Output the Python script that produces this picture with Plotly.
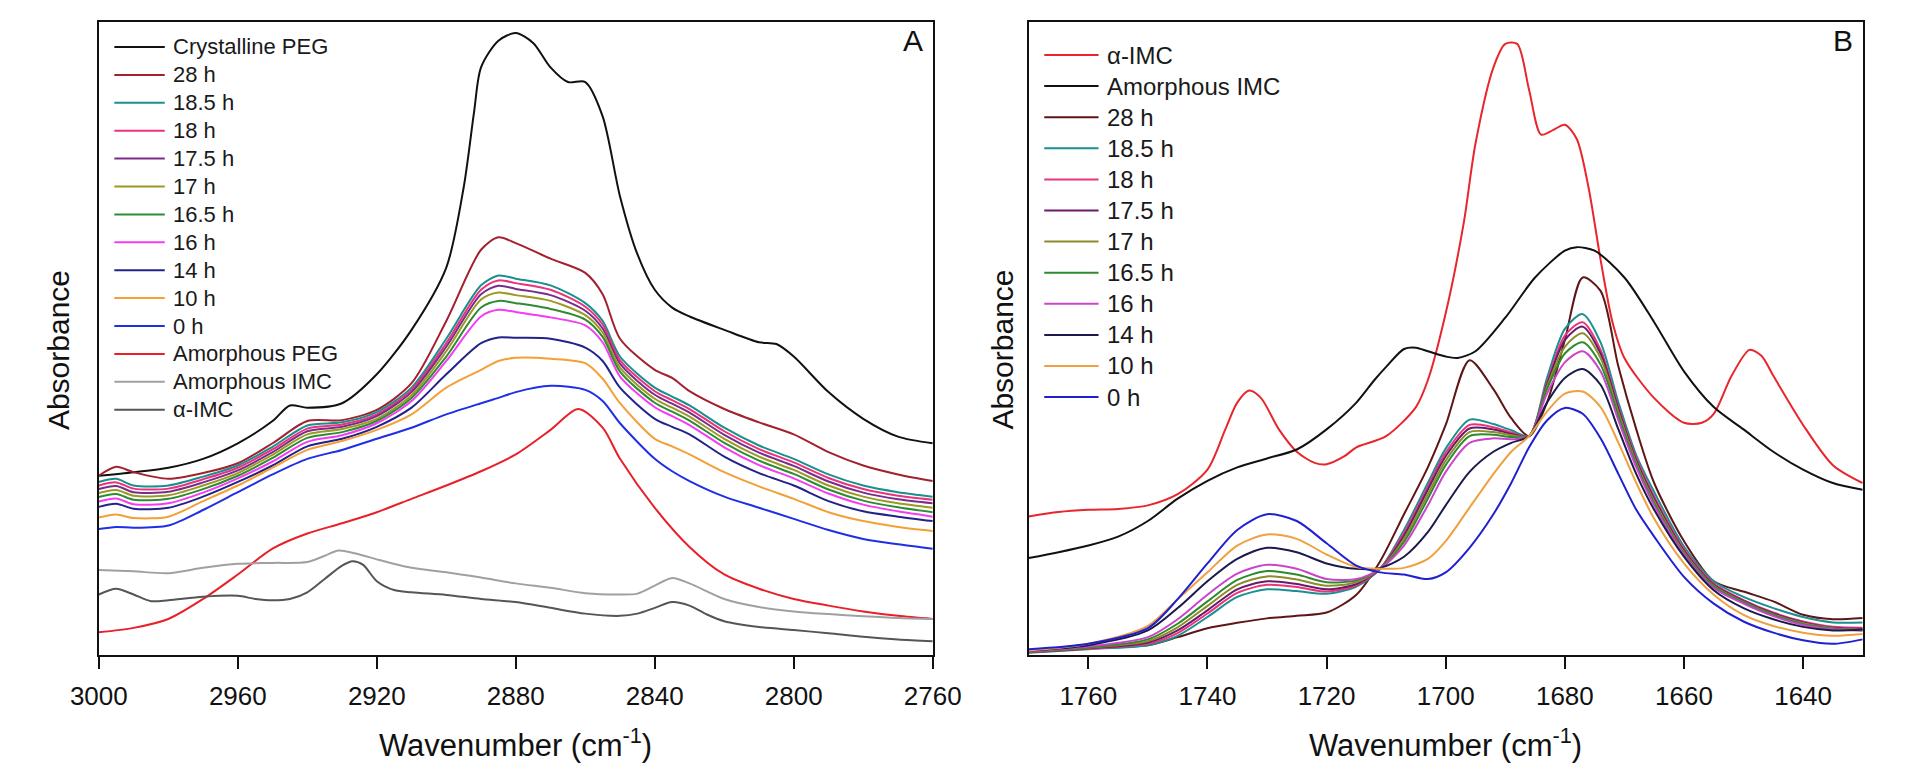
import plotly.graph_objects as go

# ---------------- Panel A (C-H stretching region), absorbance in mAU (arbitrary offset) -------------
WN_A_T = [3000, 2995, 2990, 2980, 2970, 2960, 2950, 2940, 2930, 2920, 2910, 2900, 2890, 2885,
          2880, 2870, 2860, 2855, 2850, 2840, 2835, 2830, 2820, 2810, 2800, 2790, 2780, 2770, 2760]
A_28H = [369, 389, 377, 362, 375, 397, 442, 492, 494, 517, 577, 717, 877, 905, 892, 857, 825, 777, 677, 607,
         589, 559, 519, 489, 462, 422, 392, 372, 357]
A_18_5H = [355, 362, 347, 347, 367, 392, 434, 482, 489, 512, 567, 677, 797, 819, 812, 797, 757, 717, 637, 567,
           547, 527, 477, 437, 407, 372, 347, 332, 322]
A_18H = [347, 354, 340, 340, 361, 387, 428, 475, 484, 507, 562, 667, 787, 808, 802, 787, 749, 709, 629, 559,
         539, 519, 469, 429, 399, 364, 339, 324, 315]
A_17_5H = [339, 346, 332, 333, 354, 381, 422, 469, 479, 503, 557, 659, 777, 796, 789, 775, 740, 700, 621, 551,
           531, 511, 461, 421, 391, 356, 331, 316, 307]
A_17H = [330, 337, 324, 325, 347, 375, 416, 462, 474, 497, 550, 649, 765, 781, 775, 762, 730, 691, 612, 542,
         522, 502, 452, 412, 382, 347, 322, 307, 297]
A_16_5H = [321, 328, 315, 317, 339, 369, 409, 454, 467, 492, 544, 637, 747, 762, 757, 744, 720, 681, 603, 533,
           513, 493, 443, 403, 373, 338, 313, 298, 287]
A_16H = [311, 318, 305, 307, 331, 363, 401, 445, 460, 487, 537, 627, 727, 742, 737, 725, 707, 669, 592, 523,
         503, 483, 433, 393, 363, 329, 304, 289, 277]
A_14H = [299, 306, 295, 297, 322, 355, 392, 435, 452, 479, 522, 597, 667, 680, 679, 677, 657, 627, 567, 497,
         479, 462, 412, 375, 347, 312, 289, 277, 267]
A_10H = [275, 282, 274, 277, 312, 347, 387, 427, 447, 472, 507, 567, 607, 627, 634, 632, 622, 587, 532, 452,
         435, 417, 377, 345, 317, 287, 267, 254, 245]
A_0H = [249, 254, 252, 257, 292, 332, 372, 407, 427, 452, 477, 507, 532, 544, 557, 571, 562, 537, 487, 407,
        379, 357, 322, 297, 272, 247, 227, 215, 205]

WN_A_CRYST = [3000, 2990, 2980, 2970, 2960, 2950, 2945, 2940, 2930, 2920, 2910, 2900, 2895, 2892, 2890, 2885,
              2880, 2875, 2870, 2865, 2860, 2855, 2850, 2845, 2840, 2835, 2830, 2820, 2810, 2805, 2800, 2790,
              2780, 2770, 2760]
A_CRYST_PEG = [369, 377, 387, 407, 442, 492, 527, 522, 532, 597, 697, 837, 1017, 1187, 1287, 1347, 1364, 1342,
               1287, 1254, 1254, 1177, 997, 867, 787, 747, 727, 697, 669, 665, 637, 557, 497, 457, 442]

WN_A_AMPEG = [3000, 2990, 2980, 2970, 2960, 2950, 2940, 2930, 2920, 2910, 2900, 2890, 2880, 2870, 2862, 2855,
              2850, 2840, 2830, 2820, 2810, 2800, 2790, 2780, 2770, 2760]
A_AM_PEG = [17, 27, 47, 92, 147, 205, 239, 262, 287, 317, 347, 379, 417, 472, 519, 477, 407, 297, 209, 147,
            115, 92, 77, 64, 54, 47]

WN_A_AMIMC = [3000, 2990, 2980, 2970, 2960, 2950, 2940, 2935, 2931, 2925, 2920, 2910, 2900, 2890, 2880, 2870,
              2860, 2850, 2845, 2840, 2835, 2830, 2820, 2810, 2800, 2790, 2780, 2770, 2760]
A_AM_IMC = [157, 154, 150, 162, 171, 173, 175, 189, 201, 192, 181, 162, 152, 140, 127, 117, 105, 102, 104, 122,
            139, 127, 92, 74, 64, 58, 53, 49, 47]

WN_A_AIMC = [3000, 2995, 2990, 2985, 2980, 2970, 2960, 2955, 2950, 2945, 2940, 2935, 2930, 2927, 2924, 2920,
             2915, 2910, 2900, 2890, 2880, 2870, 2860, 2850, 2845, 2840, 2835, 2830, 2825, 2820, 2810, 2800,
             2790, 2780, 2770, 2760]
A_ALPHA_IMC = [102, 115, 102, 87, 89, 97, 99, 92, 89, 92, 107, 137, 167, 177, 169, 132, 112, 107, 101, 92, 85,
               72, 59, 54, 59, 72, 85, 77, 57, 42, 29, 22, 15, 7, 1, -3]

# ---------------- Panel B (C=O stretching region) -------------
WN_B_T = [1770, 1760, 1750, 1745, 1740, 1735, 1730, 1725, 1720, 1715, 1711, 1707, 1703, 1700, 1696, 1692,
          1689, 1686, 1683, 1680, 1677, 1674, 1671, 1668, 1665, 1660, 1655, 1650, 1645, 1640, 1635, 1630]
B_28H = [7, 18, 22, 40, 60, 72, 82, 88, 95, 135, 210, 315, 420, 515, 660, 595, 530, 490, 565, 705, 845, 815,
         645, 505, 385, 255, 165, 142, 120, 90, 80, 83]
B_18_5H = [5, 13, 22, 43, 85, 130, 147, 143, 137, 153, 193, 280, 385, 462, 527, 517, 503, 490, 620, 730, 763,
           700, 565, 447, 365, 243, 165, 130, 105, 85, 73, 73]
B_18H = [6, 14, 25, 49, 93, 139, 157, 152, 142, 156, 193, 273, 377, 453, 515, 510, 498, 490, 610, 715, 745,
         683, 555, 440, 355, 237, 160, 123, 95, 75, 63, 61]
B_17_5H = [6, 15, 28, 55, 100, 147, 165, 159, 147, 159, 193, 267, 370, 445, 507, 505, 495, 490, 605, 705, 735,
           675, 550, 435, 350, 233, 157, 121, 93, 73, 61, 59]
B_17H = [7, 16, 31, 62, 110, 157, 176, 169, 155, 163, 193, 260, 360, 435, 499, 499, 492, 490, 600, 690, 720,
         665, 543, 430, 345, 230, 155, 119, 91, 71, 60, 57]
B_16_5H = [7, 17, 35, 70, 120, 168, 188, 180, 163, 167, 193, 253, 350, 425, 490, 493, 488, 490, 595, 675, 700,
           650, 535, 425, 340, 227, 153, 117, 89, 69, 59, 55]
B_16H = [8, 19, 40, 80, 135, 182, 202, 193, 170, 170, 193, 245, 335, 410, 475, 485, 483, 490, 585, 655, 680,
         635, 525, 420, 335, 225, 150, 115, 87, 67, 57, 55]
B_14H = [10, 22, 55, 105, 165, 215, 240, 230, 205, 193, 195, 220, 275, 335, 410, 455, 475, 490, 565, 620, 640,
         605, 505, 405, 325, 220, 145, 105, 80, 63, 55, 57]
B_10H = [10, 25, 65, 125, 185, 245, 270, 260, 225, 197, 193, 195, 215, 255, 330, 405, 455, 490, 545, 585, 590,
         555, 475, 385, 305, 205, 135, 90, 65, 50, 43, 47]
B_0H = [13, 25, 60, 125, 205, 280, 315, 300, 250, 200, 185, 180, 170, 185, 240, 315, 385, 465, 525, 553, 540,
        485, 405, 325, 265, 175, 115, 75, 50, 33, 25, 35]

WN_B_AIMC = [1770, 1765, 1760, 1755, 1750, 1745, 1740, 1737, 1735, 1733, 1731, 1728, 1725, 1722, 1720, 1717,
             1715, 1710, 1705, 1703, 1700, 1697, 1695, 1692, 1690, 1688, 1686, 1684, 1682, 1680, 1678, 1676,
             1674, 1672, 1670, 1665, 1660, 1657, 1655, 1652, 1649, 1647, 1645, 1640, 1635, 1630]
B_ALPHA_IMC = [310, 320, 325, 327, 335, 360, 415, 505, 565, 592, 575, 505, 455, 430, 427, 445, 465, 490, 555,
               615, 765, 965, 1145, 1315, 1368, 1368, 1265, 1165, 1175, 1187, 1155, 1045, 885, 745, 665, 575,
               520, 520, 540, 625, 683, 670, 625, 515, 425, 385]

WN_B_AMIMC = [1770, 1765, 1760, 1755, 1750, 1745, 1740, 1735, 1730, 1725, 1720, 1715, 1712, 1710, 1707, 1705,
              1703, 1700, 1698, 1695, 1690, 1685, 1680, 1678, 1675, 1670, 1665, 1660, 1655, 1650, 1645, 1640,
              1635, 1630]
B_AM_IMC = [217, 230, 245, 265, 300, 350, 390, 420, 440, 460, 505, 565, 615, 645, 685, 688, 680, 668, 665, 680,
            755, 845, 905, 913, 905, 845, 745, 635, 555, 505, 455, 415, 385, 370]

XTICKS_A = [3000, 2960, 2920, 2880, 2840, 2800, 2760]
XTICKS_B = [1760, 1740, 1720, 1700, 1680, 1660, 1640]

W, H = 1913, 777
A_X0, A_X1 = 72, 932
B_X0, B_X1 = 1031, 1891
Y_TOP, Y_BOT = 22, 655

fig = go.Figure()


def add(x, y, name, color, xa, ya):
    fig.add_trace(go.Scatter(x=x, y=y, name=name, mode="lines", showlegend=False,
                             line=dict(color=color, width=2, shape="spline", smoothing=0.8),
                             xaxis=xa, yaxis=ya))


series_a = [
    (WN_A_CRYST, A_CRYST_PEG, "Crystalline PEG", "#111111"),
    (WN_A_T, A_28H, "28 h", "#A3202E"),
    (WN_A_T, A_18_5H, "18.5 h", "#17908E"),
    (WN_A_T, A_18H, "18 h", "#EA337C"),
    (WN_A_T, A_17_5H, "17.5 h", "#7A2C8C"),
    (WN_A_T, A_17H, "17 h", "#9A9A22"),
    (WN_A_T, A_16_5H, "16.5 h", "#2E8B30"),
    (WN_A_T, A_16H, "16 h", "#F33CF3"),
    (WN_A_T, A_14H, "14 h", "#22228A"),
    (WN_A_T, A_10H, "10 h", "#F3A035"),
    (WN_A_T, A_0H, "0 h", "#1F2FE6"),
    (WN_A_AMPEG, A_AM_PEG, "Amorphous PEG", "#E8202A"),
    (WN_A_AMIMC, A_AM_IMC, "Amorphous IMC", "#A0A0A0"),
    (WN_A_AIMC, A_ALPHA_IMC, "α-IMC", "#555555"),
]
series_b = [
    (WN_B_AIMC, B_ALPHA_IMC, "α-IMC", "#E8262B"),
    (WN_B_AMIMC, B_AM_IMC, "Amorphous IMC", "#111111"),
    (WN_B_T, B_28H, "28 h", "#5E1616"),
    (WN_B_T, B_18_5H, "18.5 h", "#1A9090"),
    (WN_B_T, B_18H, "18 h", "#E8357E"),
    (WN_B_T, B_17_5H, "17.5 h", "#6A1B6A"),
    (WN_B_T, B_17H, "17 h", "#8C8C28"),
    (WN_B_T, B_16_5H, "16.5 h", "#2D8A2D"),
    (WN_B_T, B_16H, "16 h", "#CC44CC"),
    (WN_B_T, B_14H, "14 h", "#1A1A4D"),
    (WN_B_T, B_10H, "10 h", "#F0A040"),
    (WN_B_T, B_0H, "0 h", "#2020D0"),
]
for x, y, n, c in series_a:
    add(x, y, n, c, "x", "y")
for x, y, n, c in series_b:
    add(x, y, n, c, "x2", "y2")

SANS = "Liberation Sans, Arial, sans-serif"
annotations = []
shapes = []


def legend_block(series, x_line0, x_line1, x_text, y_first, step, size):
    for i, (_, _, name, color) in enumerate(series):
        yc = 1 - (y_first + i * step) / H
        shapes.append(dict(type="line", xref="paper", yref="paper", x0=x_line0 / W, x1=x_line1 / W,
                           y0=yc, y1=yc, line=dict(color=color, width=2)))
        annotations.append(dict(text=name, xref="paper", yref="paper", x=x_text / W, y=yc,
                                xanchor="left", yanchor="middle", showarrow=False,
                                font=dict(family=SANS, size=size, color="#1a1a1a")))


legend_block(series_a, 88, 140, 146, 47, 27.9, 22)
legend_block(series_b, 1047, 1103, 1110, 55, 31.1, 24)

for txt, xc in (("A", A_X1 - 20), ("B", B_X1 - 20)):
    annotations.append(dict(text=txt, xref="paper", yref="paper", x=xc / W, y=1 - 41 / H,
                            xanchor="center", yanchor="middle", showarrow=False,
                            font=dict(family=SANS, size=30, color="#111")))
for xc in ((A_X0 + A_X1) / 2, (B_X0 + B_X1) / 2):
    annotations.append(dict(text="Wavenumber (cm<sup>-1</sup>)", xref="paper", yref="paper",
                            x=xc / W, y=1 - 743 / H, xanchor="center", yanchor="middle", showarrow=False,
                            font=dict(family=SANS, size=31, color="#111")))
for xc in (30, 1003):
    annotations.append(dict(text="Absorbance", xref="paper", yref="paper", x=xc / W, y=1 - 350 / H,
                            xanchor="center", yanchor="middle", showarrow=False, textangle=-90,
                            font=dict(family=SANS, size=30, color="#111")))

TICKFONT = dict(family=SANS, size=26, color="#111")
xa_common = dict(showline=True, linecolor="#111", linewidth=2, mirror=True, ticks="outside",
                 ticklen=12, tickwidth=2, tickcolor="#111", showgrid=False, zeroline=False,
                 tickfont=TICKFONT, ticklabelstandoff=5)
ya_common = dict(showline=True, linecolor="#111", linewidth=2, mirror=True, ticks="",
                 showticklabels=False, showgrid=False, zeroline=False)
ydom = [1 - Y_BOT / H, 1 - Y_TOP / H]

fig.update_layout(
    width=W, height=H, margin=dict(l=0, r=0, t=0, b=0),
    paper_bgcolor="white", plot_bgcolor="white", showlegend=False,
    xaxis=dict(domain=[A_X0 / W, A_X1 / W], range=[3000, 2760], tickvals=XTICKS_A, **xa_common),
    yaxis=dict(domain=ydom, range=[-34, 1389], **ya_common),
    xaxis2=dict(domain=[B_X0 / W, B_X1 / W], range=[1770, 1630], tickvals=XTICKS_B, anchor="y2", **xa_common),
    yaxis2=dict(domain=ydom, range=[0, 1417], anchor="x2", **ya_common),
    annotations=annotations,
    shapes=shapes,
)

fig.write_html("out.html")
